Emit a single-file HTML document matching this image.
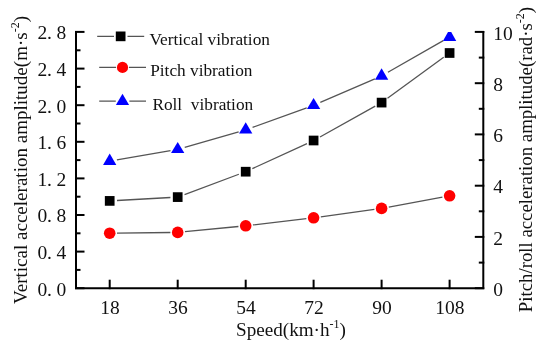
<!DOCTYPE html>
<html><head><meta charset="utf-8"><style>
html,body{margin:0;padding:0;background:#fff;width:550px;height:350px;overflow:hidden}
svg{display:block;will-change:transform;font-family:"Liberation Serif",serif}
text{fill:#111}
</style></head><body>
<svg width="550" height="350" viewBox="0 0 550 350">
<defs><clipPath id="c"><rect x="76" y="31.9" width="408" height="260"/></clipPath></defs>
<path clip-path="url(#c)" fill="none" stroke="#555" stroke-width="1.30" d="M116.99 200.49L170.41 197.51M184.54 194.55L238.86 174.25M252.33 168.65L306.97 143.55M319.98 136.95L375.22 106.15M387.50 98.30L443.70 57.30M117.00 233.11L170.40 232.49M184.97 231.69L238.43 226.51M252.95 224.95L306.35 218.65M320.83 216.80L374.37 209.40M388.78 207.07L442.42 197.13M116.89 159.82L170.51 150.54M184.72 147.29L238.68 131.84M252.57 127.35L306.73 107.78M320.30 102.40L374.90 78.80M387.94 72.28L443.26 40.66"/>
<g clip-path="url(#c)">
<rect x="104.85" y="196.05" width="9.7" height="9.7" fill="#000"/>
<rect x="172.85" y="192.25" width="9.7" height="9.7" fill="#000"/>
<rect x="240.85" y="166.85" width="9.7" height="9.7" fill="#000"/>
<rect x="308.75" y="135.65" width="9.7" height="9.7" fill="#000"/>
<rect x="376.75" y="97.75" width="9.7" height="9.7" fill="#000"/>
<rect x="444.75" y="48.15" width="9.7" height="9.7" fill="#000"/>
<circle cx="109.7" cy="233.2" r="5.80" fill="#f00"/>
<circle cx="177.7" cy="232.4" r="5.80" fill="#f00"/>
<circle cx="245.7" cy="225.8" r="5.80" fill="#f00"/>
<circle cx="313.6" cy="217.8" r="5.80" fill="#f00"/>
<circle cx="381.6" cy="208.4" r="5.80" fill="#f00"/>
<circle cx="449.6" cy="195.8" r="5.80" fill="#f00"/>
<polygon points="109.7,153.4 103.05,164.9 116.35,164.9" fill="#00f"/>
<polygon points="177.7,141.9 171.05,153.0 184.35,153.0" fill="#00f"/>
<polygon points="245.7,122.3 239.05,133.6 252.35,133.6" fill="#00f"/>
<polygon points="313.6,97.9 306.95,109.0 320.25,109.0" fill="#00f"/>
<polygon points="381.6,68.3 374.95,79.7 388.25,79.7" fill="#00f"/>
<polygon points="449.6,29.1 442.95,41.0 456.25,41.0" fill="#00f"/>
</g>
<g stroke="#000" stroke-width="2" fill="none" stroke-linecap="square">
<polyline points="76.0,31.9 76.0,288.2 483.3,288.2 483.3,31.9"/>
<line x1="76.0" y1="288.2" x2="83.5" y2="288.2"/>
<line x1="76.0" y1="251.6" x2="83.5" y2="251.6"/>
<line x1="76.0" y1="215.0" x2="83.5" y2="215.0"/>
<line x1="76.0" y1="178.4" x2="83.5" y2="178.4"/>
<line x1="76.0" y1="141.8" x2="83.5" y2="141.8"/>
<line x1="76.0" y1="105.2" x2="83.5" y2="105.2"/>
<line x1="76.0" y1="68.6" x2="83.5" y2="68.6"/>
<line x1="76.0" y1="31.9" x2="83.5" y2="31.9"/>
<line x1="76.0" y1="269.9" x2="79.5" y2="269.9"/>
<line x1="76.0" y1="233.3" x2="79.5" y2="233.3"/>
<line x1="76.0" y1="196.7" x2="79.5" y2="196.7"/>
<line x1="76.0" y1="160.1" x2="79.5" y2="160.1"/>
<line x1="76.0" y1="123.5" x2="79.5" y2="123.5"/>
<line x1="76.0" y1="86.9" x2="79.5" y2="86.9"/>
<line x1="76.0" y1="50.3" x2="79.5" y2="50.3"/>
<line x1="483.3" y1="288.2" x2="475.8" y2="288.2"/>
<line x1="483.3" y1="262.6" x2="479.8" y2="262.6"/>
<line x1="483.3" y1="236.9" x2="475.8" y2="236.9"/>
<line x1="483.3" y1="211.3" x2="479.8" y2="211.3"/>
<line x1="483.3" y1="185.7" x2="475.8" y2="185.7"/>
<line x1="483.3" y1="160.1" x2="479.8" y2="160.1"/>
<line x1="483.3" y1="134.4" x2="475.8" y2="134.4"/>
<line x1="483.3" y1="108.8" x2="479.8" y2="108.8"/>
<line x1="483.3" y1="83.2" x2="475.8" y2="83.2"/>
<line x1="483.3" y1="57.6" x2="479.8" y2="57.6"/>
<line x1="483.3" y1="31.9" x2="475.8" y2="31.9"/>
<line x1="109.7" y1="288.2" x2="109.7" y2="280.7"/>
<line x1="177.7" y1="288.2" x2="177.7" y2="280.7"/>
<line x1="245.7" y1="288.2" x2="245.7" y2="280.7"/>
<line x1="313.6" y1="288.2" x2="313.6" y2="280.7"/>
<line x1="381.6" y1="288.2" x2="381.6" y2="280.7"/>
<line x1="449.6" y1="288.2" x2="449.6" y2="280.7"/>
</g>
<path fill="none" stroke="#555" stroke-width="1.30" d="M97.2 36.4H114M127.5 36.4H144.2M99.2 67.4H116M129 67.4H146M99.2 101.2H115.8M129.4 101.2H146"/>
<rect x="115.8" y="31.5" width="9.7" height="9.7" fill="#000"/>
<circle cx="122.5" cy="67.4" r="5.6" fill="#f00"/>
<polygon points="122.5,93.8 115.9,105 129.1,105" fill="#00f"/>
<text x="149.5" y="44.8" font-size="17.3">Vertical vibration</text>
<text x="150.2" y="75.7" font-size="17.3">Pitch vibration</text>
<text x="152.4" y="109.5" font-size="17.3">Roll  vibration</text>
<text y="295.5" font-size="19.5" text-anchor="middle"><tspan x="42.3">0</tspan><tspan x="49.5">.</tspan><tspan x="61.3">0</tspan></text>
<text y="258.9" font-size="19.5" text-anchor="middle"><tspan x="42.3">0</tspan><tspan x="49.5">.</tspan><tspan x="61.3">4</tspan></text>
<text y="222.3" font-size="19.5" text-anchor="middle"><tspan x="42.3">0</tspan><tspan x="49.5">.</tspan><tspan x="61.3">8</tspan></text>
<text y="185.7" font-size="19.5" text-anchor="middle"><tspan x="42.3">1</tspan><tspan x="49.5">.</tspan><tspan x="61.3">2</tspan></text>
<text y="149.1" font-size="19.5" text-anchor="middle"><tspan x="42.3">1</tspan><tspan x="49.5">.</tspan><tspan x="61.3">6</tspan></text>
<text y="112.5" font-size="19.5" text-anchor="middle"><tspan x="42.3">2</tspan><tspan x="49.5">.</tspan><tspan x="61.3">0</tspan></text>
<text y="75.9" font-size="19.5" text-anchor="middle"><tspan x="42.3">2</tspan><tspan x="49.5">.</tspan><tspan x="61.3">4</tspan></text>
<text y="39.2" font-size="19.5" text-anchor="middle"><tspan x="42.3">2</tspan><tspan x="49.5">.</tspan><tspan x="61.3">8</tspan></text>
<text x="493.3" y="295.9" font-size="19.5">0</text>
<text x="493.3" y="244.6" font-size="19.5">2</text>
<text x="493.3" y="193.4" font-size="19.5">4</text>
<text x="493.3" y="142.1" font-size="19.5">6</text>
<text x="493.3" y="90.9" font-size="19.5">8</text>
<text x="493.3" y="39.6" font-size="19.5">10</text>
<text x="110.0" y="314" font-size="19.5" text-anchor="middle">18</text>
<text x="178.0" y="314" font-size="19.5" text-anchor="middle">36</text>
<text x="246.0" y="314" font-size="19.5" text-anchor="middle">54</text>
<text x="313.9" y="314" font-size="19.5" text-anchor="middle">72</text>
<text x="381.9" y="314" font-size="19.5" text-anchor="middle">90</text>
<text x="449.9" y="314" font-size="19.5" text-anchor="middle">108</text>
<text x="236" y="335.9" font-size="19.15">Speed(km·h<tspan dy="-8" font-size="12">-1</tspan><tspan dy="8">)</tspan></text>
<text transform="translate(27,303.9) rotate(-90)" x="0" y="0" font-size="19.05">Vertical acceleration amplitude(m·s<tspan dy="-8" font-size="12">-2</tspan><tspan dy="8">)</tspan></text>
<text transform="translate(532.3,312.2) rotate(-90)" x="0" y="0" font-size="18.8">Pitch/roll acceleration amplitude(rad·s<tspan dy="-8" font-size="12">-2</tspan><tspan dy="8">)</tspan></text>
</svg></body></html>
